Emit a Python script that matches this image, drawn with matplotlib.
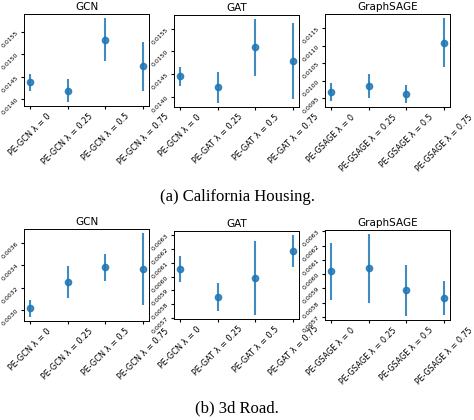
import numpy as np
import matplotlib
matplotlib.use("Agg")
import matplotlib.pyplot as plt
from matplotlib.ticker import MultipleLocator, FormatStrFormatter


# California Housing (top row)
ca_labels = {
    "GCN": ["PE-GCN λ = 0", "PE-GCN λ = 0.25", "PE-GCN λ = 0.5", "PE-GCN λ = 0.75"],
    "GAT": ["PE-GCN λ = 0", "PE-GAT λ = 0.25", "PE-GAT λ = 0.5", "PE-GAT λ = 0.75"],
    "GraphSAGE": ["PE-GSAGE λ = 0", "PE-GSAGE λ = 0.25", "PE-GSAGE λ = 0.5", "PE-GSAGE λ = 0.75"],
}
ca_gcn_mean = [0.01437, 0.01419, 0.01532, 0.01473]
ca_gcn_err = [0.00018, 0.00025, 0.00048, 0.00054]
ca_gat_mean = [0.01445, 0.01421, 0.01509, 0.01479]
ca_gat_err = [0.00020, 0.00034, 0.00062, 0.00084]
ca_sage_mean = [0.00968, 0.00985, 0.00962, 0.01109]
ca_sage_err = [0.00027, 0.00035, 0.00025, 0.00070]

# 3d Road (bottom row)
road_labels = ca_labels
road_gcn_mean = [0.003013, 0.00325, 0.00338, 0.003367]
road_gcn_err = [0.000075, 0.00014, 0.00012, 0.00032]
road_gat_mean = [0.006055, 0.005852, 0.005990, 0.006188]
road_gat_err = [0.000093, 0.00010, 0.00027, 0.000115]
road_sage_mean = [0.006021, 0.006040, 0.005887, 0.005832]
road_sage_err = [0.00020, 0.00024, 0.00018, 0.00012]

W, H = 474, 420


def px_axes(fig, left, right, top, bottom):
    return fig.add_axes([left / W, 1 - bottom / H, (right - left) / W, (bottom - top) / H])


def draw(ax, title, labels, mean, err, ystep, xfs=5.9):
    x = np.arange(len(mean))
    ax.errorbar(x, mean, yerr=err, fmt='o', color='#1f77b4', markersize=4.5,
                elinewidth=1.5, alpha=0.85)
    ax.set_title(title, fontsize=7.5, pad=3)
    ax.set_xticks(x)
    ax.set_xticklabels(labels, rotation=45, fontsize=xfs)
    ax.yaxis.set_major_locator(MultipleLocator(ystep))
    ax.yaxis.set_major_formatter(FormatStrFormatter('%.4f'))
    ax.tick_params(axis='y', labelsize=4.5, labelrotation=45, length=2.5, pad=0.5)
    ax.tick_params(axis='x', length=2.5, pad=1.5)
    for s in ax.spines.values():
        s.set_linewidth(0.7)


fig = plt.figure(figsize=(W / 100, H / 100), dpi=100)

ax = px_axes(fig, 24, 149, 14, 106)
draw(ax, "GCN", ca_labels["GCN"], ca_gcn_mean, ca_gcn_err, 0.0005)
ax = px_axes(fig, 174, 299, 15, 107)
draw(ax, "GAT", ca_labels["GAT"], ca_gat_mean, ca_gat_err, 0.0005)
ax = px_axes(fig, 325, 450, 14, 107)
draw(ax, "GraphSAGE", ca_labels["GraphSAGE"], ca_sage_mean, ca_sage_err, 0.0005, xfs=5.7)

ax = px_axes(fig, 24, 149, 229, 321)
draw(ax, "GCN", road_labels["GCN"], road_gcn_mean, road_gcn_err, 0.0002)
ax = px_axes(fig, 174, 299, 231, 319)
draw(ax, "GAT", road_labels["GAT"], road_gat_mean, road_gat_err, 0.0001)
ax = px_axes(fig, 325, 450, 230, 320)
draw(ax, "GraphSAGE", road_labels["GraphSAGE"], road_sage_mean, road_sage_err, 0.0001, xfs=5.7)

fig.text(237 / W, 1 - 197 / H, "(a) California Housing.", ha='center', va='center',
         fontsize=12, family='Liberation Serif')
fig.text(237 / W, 1 - 408 / H, "(b) 3d Road.", ha='center', va='center',
         fontsize=12, family='Liberation Serif')

fig.savefig("out.png", dpi=100)
